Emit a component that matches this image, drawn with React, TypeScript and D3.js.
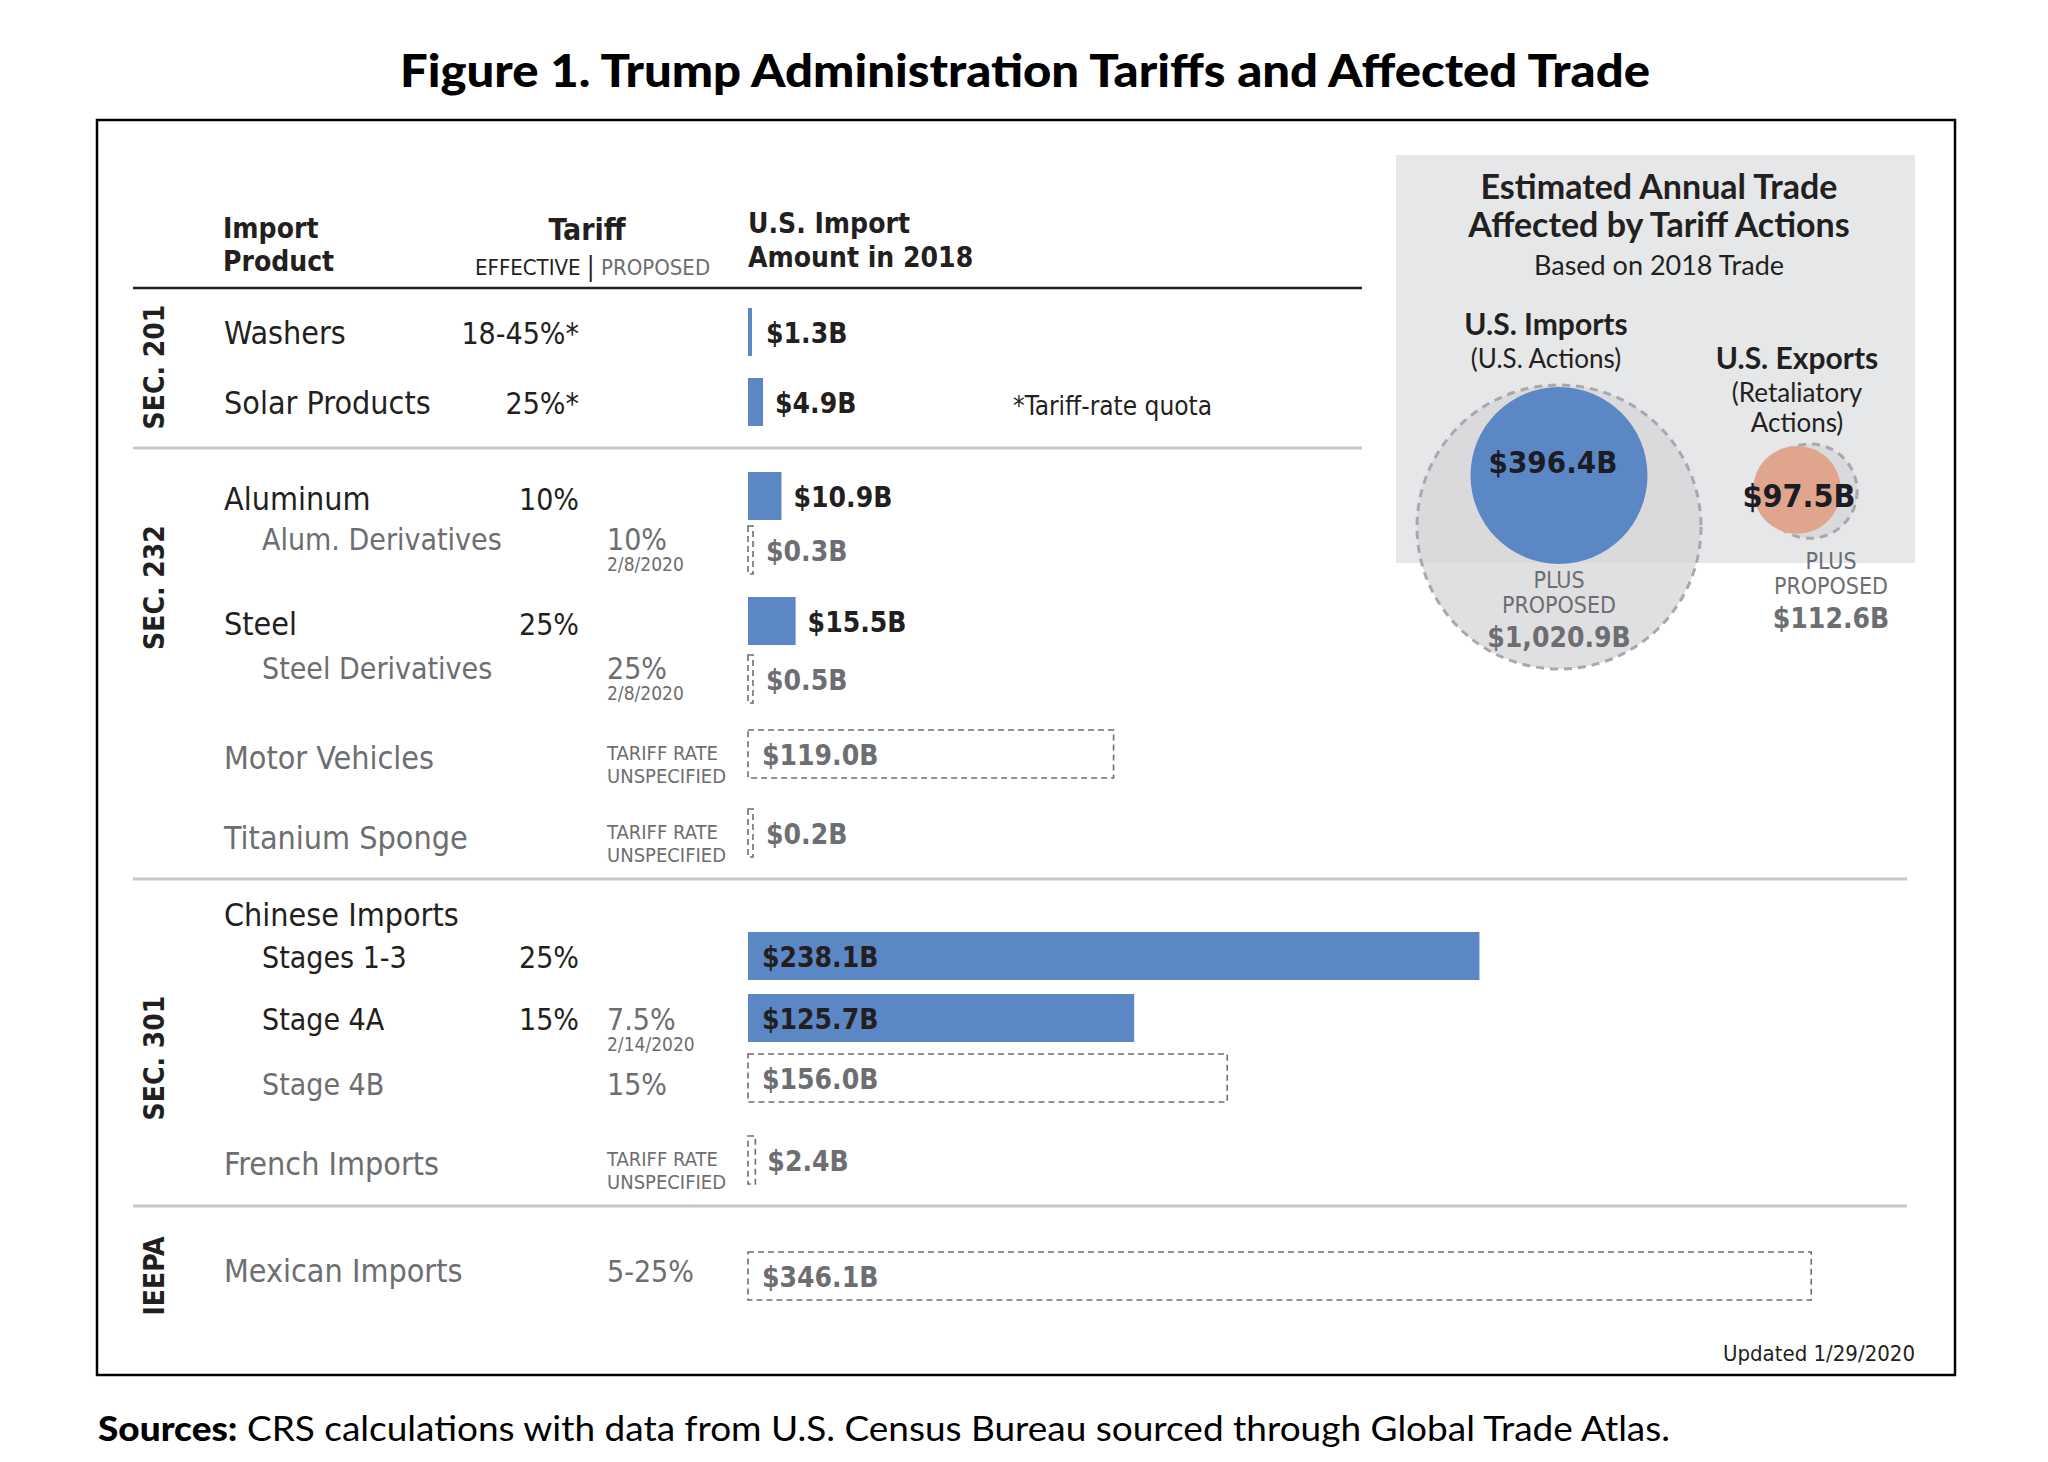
import React, { useRef, useEffect } from "react";
import * as d3 from "d3";

// Table rows: import product, tariff section, 2018 import value ($B)
const products = [
  "Washers",
  "Solar Products",
  "Aluminum",
  "Alum. Derivatives",
  "Steel",
  "Steel Derivatives",
  "Motor Vehicles",
  "Titanium Sponge",
  "Chinese Imports",
  "Stages 1-3",
  "Stage 4A",
  "Stage 4B",
  "French Imports",
  "Mexican Imports",
];
const indented = [false, false, false, true, false, true, false, false, false, true, true, true, false, false];
const importValues = [1.3, 4.9, 10.9, 0.3, 15.5, 0.5, 119.0, 0.2, null, 238.1, 125.7, 156.0, 2.4, 346.1];
const status = [
  "effective", "effective", "effective", "proposed", "effective", "proposed", "proposed",
  "proposed", "effective", "effective", "effective", "proposed", "proposed", "proposed",
];
const effectiveTariffs = ["18-45%*", "25%*", "10%", "", "25%", "", "", "", "", "25%", "15%", "", "", ""];
const proposedTariffs = ["", "", "", "10%", "", "25%", "TARIFF RATE|UNSPECIFIED", "TARIFF RATE|UNSPECIFIED", "", "", "7.5%", "15%", "TARIFF RATE|UNSPECIFIED", "5-25%"];
const proposedDates = ["", "", "", "2/8/2020", "", "2/8/2020", "", "", "", "", "2/14/2020", "", "", ""];

const sectionNames = ["SEC. 201", "SEC. 232", "SEC. 301", "IEEPA"];
const sectionFirst = ["Washers", "Aluminum", "Stages 1-3", "Mexican Imports"];
const sectionLast = ["Solar Products", "Steel Derivatives", "French Imports", "Mexican Imports"];
const sectionBreaks = ["Solar Products", "Titanium Sponge", "French Imports"];

// Bubble panel: annual trade affected, $B
const bubbleGroups = ["U.S. Imports", "U.S. Exports"];
const bubbleSubtitles = [["(U.S. Actions)"], ["(Retaliatory", "Actions)"]];
const effectiveTotals = [396.4, 97.5];
const withProposedTotals = [1020.9, 112.6];

// vertical spacing between row centres, and label nudges per row
const rowGap = [0, 70, 94, 54, 71, 58, 75, 79, 81, 42, 62, 60, 82, 116];
const labelNudge = [0, 0, 2, 0, 2, 0, 3, 4, 0, 0, 0, 5, 3, -6];

const NARROW = "'Liberation Sans Narrow', 'DejaVu Sans Condensed', sans-serif";
const SANS = "Lato, 'Open Sans', sans-serif";
const BLACK = "#231f20";
const GRAY = "#6d6e71";
const BLUE = "#5b88c4";
const SALMON = "#dfa58d";

function TariffChart({ width = 2048, height = 1462 }) {
  const svgRef = useRef(null);

  useEffect(() => {
    const svg = d3.select(svgRef.current);
    svg.selectAll("*").remove();
    svg.attr("width", width).attr("height", height);

    svg.append("rect").attr("width", width).attr("height", height).attr("fill", "#fff");

    // Title
    svg.append("text")
      .attr("x", 1025).attr("y", 87)
      .attr("text-anchor", "middle")
      .attr("textLength", 1250).attr("lengthAdjust", "spacingAndGlyphs")
      .style("font-family", SANS).style("font-weight", 900).style("font-size", "46px")
      .attr("fill", "#000")
      .text("Figure 1. Trump Administration Tariffs and Affected Trade");

    // Frame
    svg.append("rect")
      .attr("x", 97).attr("y", 120).attr("width", 1858).attr("height", 1255)
      .attr("fill", "none").attr("stroke", "#000").attr("stroke-width", 2.5);

    // Bubble panel background
    const panel = svg.append("g");
    panel.append("rect")
      .attr("x", 1396).attr("y", 155).attr("width", 519).attr("height", 408)
      .attr("fill", "#e6e7e8");

    // Scales
    const rowCenters = d3.cumsum(rowGap).map(g => 332 + g);
    const yRow = d3.scaleOrdinal().domain(products).range(rowCenters);
    const x = d3.scaleLinear().domain([0, 350]).range([748, 748 + 350 * 3.072]);
    const barH = 48;

    const rows = products.map((p, i) => ({
      product: p,
      indent: indented[i],
      value: importValues[i],
      status: status[i],
      effective: effectiveTariffs[i],
      proposed: proposedTariffs[i],
      date: proposedDates[i],
      nudge: labelNudge[i],
    }));

    const table = svg.append("g");

    // Column headers
    const header = table.append("g")
      .style("font-family", NARROW).style("font-weight", "bold").style("font-size", "28px")
      .attr("fill", BLACK);
    header.append("text").attr("x", 223).attr("y", 238).text("Import");
    header.append("text").attr("x", 223).attr("y", 271).text("Product");
    header.append("text").attr("x", 587).attr("y", 240).attr("text-anchor", "middle").style("font-size", "30px").text("Tariff");
    header.append("text").attr("x", 748).attr("y", 233).text("U.S. Import");
    header.append("text").attr("x", 748).attr("y", 267).text("Amount in 2018");
    const sub = header.append("text")
      .attr("x", 475).attr("y", 275)
      .style("font-weight", "normal").style("font-size", "22px");
    sub.append("tspan").attr("fill", BLACK).text("EFFECTIVE ");
    sub.append("tspan").attr("fill", BLACK).style("font-size", "26px").text("|");
    sub.append("tspan").attr("fill", GRAY).text(" PROPOSED");

    table.append("line")
      .attr("x1", 133).attr("x2", 1362).attr("y1", 288).attr("y2", 288)
      .attr("stroke", BLACK).attr("stroke-width", 2.5);

    // Section separators
    table.selectAll(".sep")
      .data(sectionBreaks)
      .enter()
      .append("line")
      .attr("class", "sep")
      .attr("x1", 133)
      .attr("x2", (d, i) => (i === 0 ? 1362 : 1907))
      .attr("y1", d => yRow(d) + barH / 2 + 22)
      .attr("y2", d => yRow(d) + barH / 2 + 22)
      .attr("stroke", "#c8c8c8").attr("stroke-width", 3);

    // Rotated section labels
    table.selectAll(".section")
      .data(sectionNames)
      .enter()
      .append("text")
      .attr("class", "section")
      .attr("transform", (d, i) => {
        const cy = (yRow(sectionFirst[i]) + yRow(sectionLast[i])) / 2;
        return `translate(164,${cy}) rotate(-90)`;
      })
      .attr("text-anchor", "middle")
      .style("font-family", NARROW).style("font-weight", "bold").style("font-size", "28px")
      .attr("fill", BLACK)
      .text(d => d);

    const labelBase = d => yRow(d.product) + (d.date && !d.effective ? 0 : 12) + d.nudge;
    const rowColor = d => (d.status === "effective" ? BLACK : GRAY);

    // Product names
    table.selectAll(".product")
      .data(rows)
      .enter()
      .append("text")
      .attr("class", "product")
      .attr("x", d => (d.indent || d.date ? 262 : 224))
      .attr("y", labelBase)
      .style("font-family", NARROW)
      .style("font-size", d => (d.indent || d.date ? "30px" : "32px"))
      .attr("fill", rowColor)
      .text(d => d.product);

    // Effective tariff rates
    table.selectAll(".eff")
      .data(rows.filter(d => d.effective))
      .enter()
      .append("text")
      .attr("class", "eff")
      .attr("x", 579)
      .attr("y", labelBase)
      .attr("text-anchor", "end")
      .style("font-family", NARROW).style("font-size", "30px")
      .attr("fill", BLACK)
      .text(d => d.effective);

    // Proposed tariff rates
    const prop = table.selectAll(".prop")
      .data(rows.filter(d => d.proposed))
      .enter()
      .append("text")
      .attr("class", "prop")
      .attr("x", 607)
      .style("font-family", NARROW)
      .attr("fill", GRAY);
    prop.each(function (d) {
      const t = d3.select(this);
      if (d.proposed.includes("|")) {
        const [a, b] = d.proposed.split("|");
        t.attr("y", yRow(d.product) + 6).style("font-size", "20px");
        t.append("tspan").attr("x", 607).text(a);
        t.append("tspan").attr("x", 607).attr("dy", 23).text(b);
      } else {
        t.attr("y", labelBase(d)).style("font-size", "30px").text(d.proposed);
      }
    });

    // Effective dates under proposed rates
    table.selectAll(".date")
      .data(rows.filter(d => d.date))
      .enter()
      .append("text")
      .attr("class", "date")
      .attr("x", 607)
      .attr("y", d => labelBase(d) + 21)
      .style("font-family", NARROW).style("font-size", "19px")
      .attr("fill", GRAY)
      .text(d => d.date);

    // Import amount bars
    const barRows = rows.filter(d => d.value !== null);
    const barW = d => Math.max(x(d.value) - x(0), d.status === "proposed" ? 5 : 3);

    table.selectAll(".bar")
      .data(barRows)
      .enter()
      .append("rect")
      .attr("class", "bar")
      .attr("x", x(0))
      .attr("y", d => yRow(d.product) - barH / 2)
      .attr("width", barW)
      .attr("height", barH)
      .attr("fill", d => (d.status === "effective" ? BLUE : "none"))
      .attr("stroke", d => (d.status === "effective" ? "none" : GRAY))
      .attr("stroke-width", 1.6)
      .attr("stroke-dasharray", "6,4");

    const fmt = v => `$${d3.format(",.1f")(v)}B`;
    const inside = d => barW(d) > 150;

    table.selectAll(".value")
      .data(barRows)
      .enter()
      .append("text")
      .attr("class", "value")
      .attr("x", d => (inside(d) ? x(0) + 14 : x(0) + Math.max(barW(d), 6) + 12))
      .attr("y", d => yRow(d.product) + 11)
      .style("font-family", NARROW).style("font-weight", "bold").style("font-size", "28px")
      .attr("fill", d => (d.status === "effective" ? BLACK : GRAY))
      .text(d => fmt(d.value));

    table.append("text")
      .attr("x", 1013).attr("y", 415)
      .style("font-family", NARROW).style("font-size", "26px")
      .attr("fill", BLACK)
      .text("*Tariff-rate quota");

    // Bubble panel text
    const ptitle = panel.append("g")
      .attr("text-anchor", "middle")
      .style("font-family", SANS)
      .attr("fill", BLACK);
    ptitle.append("text").attr("x", 1659).attr("y", 199)
      .style("font-weight", "bold").style("font-size", "34px").text("Estimated Annual Trade");
    ptitle.append("text").attr("x", 1659).attr("y", 237)
      .style("font-weight", "bold").style("font-size", "34px").text("Affected by Tariff Actions");
    ptitle.append("text").attr("x", 1659).attr("y", 275)
      .style("font-size", "27px").text("Based on 2018 Trade");

    const r = d3.scaleSqrt().domain([0, d3.max(withProposedTotals)]).range([0, 142]);
    const bubbleCx = [1559, 1810];
    const bubbleTop = [385, 444];
    const innerShift = [0, -13];
    const headY = [335, 369];

    const groups = panel.selectAll(".bubble")
      .data(bubbleGroups.map((g, i) => ({
        name: g,
        subtitle: bubbleSubtitles[i],
        effective: effectiveTotals[i],
        total: withProposedTotals[i],
        i,
      })))
      .enter()
      .append("g")
      .attr("class", "bubble");

    groups.append("circle")
      .attr("cx", d => bubbleCx[d.i])
      .attr("cy", d => bubbleTop[d.i] + r(d.total))
      .attr("r", d => r(d.total))
      .attr("fill", "#d5d6d8").attr("fill-opacity", 0.75)
      .attr("stroke", "#a7a9ac").attr("stroke-width", 3).attr("stroke-dasharray", "8,6");

    groups.append("circle")
      .attr("cx", d => bubbleCx[d.i] + innerShift[d.i])
      .attr("cy", d => bubbleTop[d.i] + r(d.effective) + 2)
      .attr("r", d => r(d.effective))
      .attr("fill", d => (d.i === 0 ? BLUE : SALMON));

    groups.append("text")
      .attr("x", d => bubbleCx[d.i] + innerShift[d.i] + (d.i === 0 ? -6 : 2))
      .attr("y", d => bubbleTop[d.i] + r(d.effective) + (d.i === 0 ? 0 : 19))
      .attr("text-anchor", "middle")
      .style("font-family", NARROW).style("font-weight", "bold")
      .style("font-size", d => (d.i === 0 ? "31px" : "32px"))
      .attr("fill", "#1c1c24")
      .text(d => fmt(d.effective));

    groups.append("text")
      .attr("x", d => bubbleCx[d.i] - 13)
      .attr("y", d => headY[d.i])
      .attr("text-anchor", "middle")
      .style("font-family", SANS).style("font-weight", "bold").style("font-size", "30px")
      .attr("fill", BLACK)
      .text(d => d.name);

    groups.each(function (d) {
      const g = d3.select(this);
      d.subtitle.forEach((s, k) => {
        g.append("text")
          .attr("x", bubbleCx[d.i] - 13)
          .attr("y", headY[d.i] + 33 + k * 30)
          .attr("text-anchor", "middle")
          .style("font-family", SANS).style("font-size", "26px")
          .attr("fill", BLACK)
          .text(s);
      });
      const px = d.i === 0 ? bubbleCx[d.i] : bubbleCx[d.i] + 21;
      const py = d.i === 0 ? 588 : 569;
      g.append("text").attr("x", px).attr("y", py)
        .attr("text-anchor", "middle")
        .style("font-family", NARROW).style("font-size", "23px").attr("fill", GRAY)
        .text("PLUS");
      g.append("text").attr("x", px).attr("y", py + 25)
        .attr("text-anchor", "middle")
        .style("font-family", NARROW).style("font-size", "23px").attr("fill", GRAY)
        .text("PROPOSED");
      g.append("text").attr("x", px).attr("y", py + 59)
        .attr("text-anchor", "middle")
        .style("font-family", NARROW).style("font-weight", "bold").style("font-size", "28px")
        .attr("fill", GRAY)
        .text(fmt(d.total));
    });

    svg.append("text")
      .attr("x", 1915).attr("y", 1361)
      .attr("text-anchor", "end")
      .style("font-family", NARROW).style("font-size", "22px")
      .attr("fill", BLACK)
      .text("Updated 1/29/2020");

    // Source note
    const src = svg.append("text")
      .attr("x", 98).attr("y", 1441)
      .attr("textLength", 1572).attr("lengthAdjust", "spacingAndGlyphs")
      .style("font-family", SANS).style("font-size", "35px")
      .attr("fill", "#000");
    src.append("tspan").style("font-weight", 900).text("Sources:");
    src.append("tspan").text(" CRS calculations with data from U.S. Census Bureau sourced through Global Trade Atlas.");
  }, [width, height]);

  return <svg ref={svgRef} style={{ display: "block" }}></svg>;
}

export default function App() {
  return (
    <div style={{ position: "absolute", left: 0, top: 0 }}>
      <TariffChart />
    </div>
  );
}
